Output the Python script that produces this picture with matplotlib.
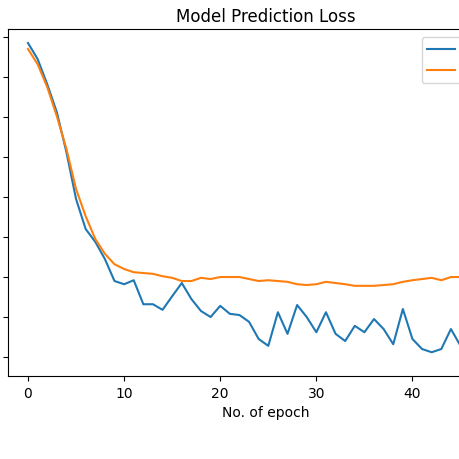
import matplotlib
matplotlib.use('Agg')
import matplotlib.pyplot as plt

epochs = list(range(50))
train_loss = [0.4925, 0.4725, 0.441, 0.406, 0.356, 0.2975, 0.26, 0.244, 0.2225, 0.195,
              0.191, 0.196, 0.166, 0.166, 0.159, 0.176, 0.1925, 0.1725, 0.1575, 0.15,
              0.164, 0.154, 0.1525, 0.144, 0.1225, 0.114, 0.156, 0.129, 0.165, 0.15,
              0.131, 0.156, 0.129, 0.12, 0.139, 0.131, 0.1475, 0.135, 0.116, 0.16,
              0.1225, 0.11, 0.106, 0.11, 0.135, 0.114, 0.128, 0.118, 0.132, 0.121]
test_loss = [0.485, 0.466, 0.4375, 0.401, 0.36, 0.31, 0.276, 0.2475, 0.229, 0.216,
             0.21, 0.206, 0.205, 0.204, 0.201, 0.199, 0.195, 0.195, 0.199, 0.1975,
             0.2, 0.2, 0.2, 0.1975, 0.195, 0.196, 0.195, 0.194, 0.191, 0.19,
             0.191, 0.194, 0.1925, 0.191, 0.189, 0.189, 0.189, 0.19, 0.191, 0.194,
             0.196, 0.1975, 0.199, 0.196, 0.2, 0.2, 0.199, 0.201, 0.198, 0.2]

fig = plt.figure(figsize=(4.6, 4.6), dpi=100)
# axes run past the right edge, like the cropped original
ax = fig.add_axes([8/460, 1 - 377/460, (523 - 8)/460, (377 - 30)/460])
ax.plot(epochs, train_loss, label='train', color='#1f77b4')
ax.plot(epochs, test_loss, label='test', color='#ff7f0e')
ax.set_xlim(-2.08, 51.5)
ax.set_ylim(0.0763, 0.51)
ax.set_yticks([0.10, 0.15, 0.20, 0.25, 0.30, 0.35, 0.40, 0.45, 0.50])
ax.set_xticks([0, 10, 20, 30, 40, 50])
ax.set_title('Model Prediction Loss')
ax.set_xlabel('No. of epoch')
ax.legend(loc='upper right', bbox_to_anchor=(1 - 12/515, 0.997))
fig.savefig('out.png', dpi=100)
